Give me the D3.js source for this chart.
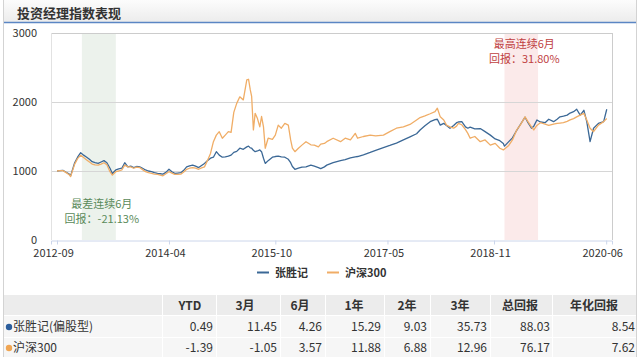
<!DOCTYPE html>
<html><head><meta charset="utf-8">
<script src="https://cdn.jsdelivr.net/npm/d3@7"></script>
<style>
html,body{margin:0;padding:0;background:#fff;}
svg{display:block;font-family:"Noto Sans CJK SC","Noto Sans",sans-serif;}
</style></head>
<body><svg id="c" width="640" height="357"></svg>
<script>
// ---------- DATA ----------
const titleText = "投资经理指数表现";
const seriesNames = ["张胜记", "沪深300"];
const dates = [
"2012-09-01","2012-09-16","2012-10-01","2012-10-16","2012-11-01","2012-11-10","2012-12-01","2012-12-16",
"2013-01-01","2013-01-16","2013-02-01","2013-02-15","2013-03-01","2013-03-16","2013-04-01","2013-04-16",
"2013-05-01","2013-05-16","2013-06-01","2013-06-13","2013-07-01","2013-07-16","2013-08-01","2013-08-16",
"2013-09-01","2013-09-16","2013-10-01","2013-10-16","2013-11-01","2013-11-16","2013-12-01","2013-12-16",
"2014-01-01","2014-01-16","2014-02-01","2014-02-15","2014-03-01","2014-03-16","2014-04-01","2014-04-16",
"2014-05-01","2014-05-16","2014-06-01","2014-06-16","2014-07-01","2014-07-16","2014-08-01","2014-08-16",
"2014-09-01","2014-09-16","2014-10-01","2014-10-16","2014-11-01","2014-11-16","2014-12-01","2014-12-16",
"2015-01-01","2015-01-16","2015-02-01","2015-02-15","2015-03-01","2015-03-16","2015-04-01","2015-04-19",
"2015-05-07","2015-05-16","2015-05-25","2015-06-01","2015-06-10","2015-06-19","2015-07-01","2015-07-13",
"2015-07-22","2015-08-01","2015-08-10","2015-08-25","2015-09-16","2015-10-01","2015-10-16","2015-11-01",
"2015-11-19","2015-12-07","2015-12-19","2015-12-28","2016-01-10","2016-01-28","2016-02-15","2016-03-07",
"2016-04-01","2016-04-19","2016-05-10","2016-05-22","2016-06-10","2016-06-22","2016-07-25","2016-09-01",
"2016-09-25","2016-10-22","2016-11-16","2016-11-28","2016-12-28","2017-02-01","2017-03-01","2017-04-10",
"2017-05-13","2017-06-16","2017-07-22","2017-08-25","2017-09-28","2017-10-16","2017-11-10","2017-12-07",
"2018-01-01","2018-01-13","2018-01-28","2018-02-15","2018-03-01","2018-03-19","2018-04-07","2018-04-22",
"2018-05-01","2018-05-19","2018-06-07","2018-06-19","2018-07-01","2018-07-25","2018-08-22","2018-09-16",
"2018-10-13","2018-11-07","2018-12-01","2018-12-19","2018-12-25","2019-01-16","2019-02-04","2019-02-26",
"2019-03-16","2019-04-10","2019-04-25","2019-05-13","2019-05-25","2019-06-10","2019-06-28","2019-07-22",
"2019-08-10","2019-09-04","2019-09-22","2019-10-07","2019-10-25","2019-11-13","2019-11-28","2019-12-16",
"2020-01-01","2020-01-19","2020-02-07","2020-02-22","2020-03-10","2020-03-28","2020-04-22","2020-05-19",
"2020-06-04"];
const zsjValues = [
1000,1005,1010,985,960,930,1120,1200,
1265,1230,1200,1170,1135,1120,1110,1130,
1150,1120,1040,965,1015,1030,1040,1120,
1060,1070,1050,1065,1060,1040,1015,1000,
990,975,965,960,955,980,1025,990,
965,970,975,1010,1060,1075,1085,1070,
1050,1080,1110,1150,1185,1200,1280,1230,
1200,1205,1215,1230,1270,1285,1330,1315,
1350,1360,1335,1330,1300,1280,1290,1305,
1280,1185,1110,1150,1200,1210,1215,1205,
1200,1170,1120,1065,1025,1040,1055,1060,
1085,1070,1050,1035,1060,1085,1120,1150,
1165,1190,1205,1210,1235,1270,1300,1340,
1370,1405,1450,1495,1540,1595,1655,1715,
1745,1750,1665,1690,1660,1620,1660,1700,
1710,1715,1640,1620,1635,1610,1615,1570,
1520,1465,1440,1400,1360,1425,1480,1590,
1670,1780,1700,1620,1650,1740,1710,1700,
1750,1715,1750,1785,1795,1810,1840,1860,
1895,1810,1880,1715,1425,1620,1690,1715,
1895];
const hs300Values = [
1000,1005,1005,980,950,920,1100,1180,
1230,1195,1160,1130,1100,1090,1085,1100,
1120,1090,990,940,990,1000,1015,1085,
1060,1060,1040,1055,1050,1020,990,975,
965,955,950,940,930,960,990,970,
950,950,955,985,1025,1040,1050,1040,
1025,1045,1060,1150,1255,1425,1520,1570,
1475,1520,1570,1560,1850,1980,2075,2030,
2320,2330,2175,2080,1595,1835,1760,1640,
1790,1640,1330,1475,1460,1520,1665,1620,
1690,1665,1450,1330,1280,1330,1375,1425,
1380,1375,1350,1390,1400,1425,1475,1425,
1475,1450,1545,1475,1500,1520,1510,1520,
1570,1620,1640,1675,1740,1775,1800,1830,
1860,1910,1785,1740,1665,1640,1620,1650,
1690,1670,1600,1545,1475,1500,1425,1450,
1375,1400,1330,1305,1320,1370,1450,1595,
1665,1785,1715,1640,1595,1660,1700,1680,
1660,1680,1690,1695,1700,1720,1740,1760,
1785,1810,1835,1740,1620,1570,1665,1715,
1760];
const yTicks = [0, 1000, 2000, 3000];
const xTickLabels = ["2012-09","2014-04","2015-10","2017-05","2018-11","2020-06"];
const worstBand = ["2013-01-07","2013-07-01"];
const bestBand = ["2018-12-25","2019-06-16"];
const worstText = ["最差连续6月","回报：-21.13%"];
const bestText = ["最高连续6月","回报：31.80%"];
const tableHeaders = ["YTD","3月","6月","1年","2年","3年","总回报","年化回报"];
const rowNames = ["张胜记(偏股型)","沪深300"];
const zsjReturns = [0.49, 11.45, 4.26, 15.29, 9.03, 35.73, 88.03, 8.54];
const hs300Returns = [-1.39, -1.05, 3.57, 11.88, 6.88, 12.96, 76.17, 7.62];

// ---------- STYLE / LAYOUT ----------
const blue = "#3b6896", orange = "#f0ad66";
const svg = d3.select("#c");
const parse = d3.timeParse("%Y-%m-%d");
const parseM = d3.timeParse("%Y-%m");
const L = 51, R = 612, T = 33, B = 240;
const x = d3.scaleTime().domain([new Date(2012,7,1), new Date(2020,6,1)]).range([L, R]);
const y = d3.scaleLinear().domain([0, 3000]).range([B, T]);

// frame and title bar
const defs = svg.append("defs");
const g1 = defs.append("linearGradient").attr("id","tb").attr("x1",0).attr("y1",0).attr("x2",0).attr("y2",1);
g1.append("stop").attr("offset","0%").attr("stop-color","#fcfcfc");
g1.append("stop").attr("offset","100%").attr("stop-color","#ececec");
svg.append("rect").attr("x",4).attr("y",0).attr("width",632).attr("height",22).attr("fill","url(#tb)");
svg.append("line").attr("x1",3).attr("x2",637).attr("y1",22.5).attr("y2",22.5).attr("stroke","#5b86c4").attr("stroke-width",1.5);
svg.append("line").attr("x1",3.5).attr("x2",3.5).attr("y1",0).attr("y2",357).attr("stroke","#d3d3d3");
svg.append("line").attr("x1",636.5).attr("x2",636.5).attr("y1",0).attr("y2",357).attr("stroke","#d3d3d3");
svg.append("text").attr("x",17).attr("y",18).attr("font-size",13).attr("font-weight","bold").attr("fill","#333").text(titleText);

// bands
function band(d, fill){
  svg.append("rect").attr("x", x(parse(d[0]))).attr("y", T)
    .attr("width", x(parse(d[1])) - x(parse(d[0]))).attr("height", B - T).attr("fill", fill);
}
band(worstBand, "#ecf2ec");
band(bestBand, "#fbeaea");

// grid
svg.append("g").selectAll("line").data(yTicks.filter(v=>v>0)).join("line")
  .attr("x1", L).attr("x2", R).attr("y1", d=>Math.round(y(d))+0.5).attr("y2", d=>Math.round(y(d))+0.5)
  .attr("stroke", d=> d===3000 ? "#cccccc" : "#d6d6d6");
svg.append("line").attr("x1",L+0.5).attr("x2",L+0.5).attr("y1",T).attr("y2",B).attr("stroke","#e2e2e2");
svg.append("line").attr("x1",R+0.5).attr("x2",R+0.5).attr("y1",T).attr("y2",B).attr("stroke","#cccccc");

// y labels
svg.append("g").selectAll("text").data(yTicks).join("text")
  .attr("x", 37).attr("y", d=>y(d)).attr("dy","0.35em").attr("text-anchor","end")
  .attr("font-size", 11).attr("fill","#333").text(d=>d);

// x axis
const xAxis = d3.axisBottom(x).tickValues(xTickLabels.map(parseM)).tickSize(4).tickFormat(d3.timeFormat("%Y-%m"));
const gx = svg.append("g").attr("transform", `translate(0,${B+0.5})`).call(xAxis);
gx.select(".domain").attr("stroke","#ccd6eb");
gx.selectAll(".tick line").attr("stroke","#ccd6eb");
gx.selectAll(".tick text").attr("font-size",11).attr("fill","#333").attr("font-family",'"Noto Sans CJK SC",sans-serif')
  .attr("dx",-4).attr("y",9);

// lines
const pts1 = dates.map((d,i)=>[parse(d), zsjValues[i]]);
const pts2 = dates.map((d,i)=>[parse(d), hs300Values[i]]);
const line = d3.line().x(d=>x(d[0])).y(d=>y(d[1]));
svg.append("path").attr("d", line(pts1)).attr("fill","none").attr("stroke",blue).attr("stroke-width",1.3).attr("stroke-linejoin","round");
svg.append("path").attr("d", line(pts2)).attr("fill","none").attr("stroke",orange).attr("stroke-width",1.3).attr("stroke-linejoin","round");

// annotations
function ann(d, lines, yy, color){
  const cx = (x(parse(d[0])) + x(parse(d[1]))) / 2 + 3;
  svg.append("g").selectAll("text").data(lines).join("text")
    .attr("x", cx).attr("y",(t,i)=>yy + i*15).attr("text-anchor","middle")
    .attr("font-size",11).attr("fill",color).text(t=>t);
}
ann(worstBand, worstText, 208, "#5a8a5a");
ann(bestBand, bestText, 48, "#c0413f");

// legend
const leg = [{n:seriesNames[0], c:blue, x:257}, {n:seriesNames[1], c:orange, x:327}];
leg.forEach(l=>{
  svg.append("line").attr("x1",l.x).attr("x2",l.x+12).attr("y1",272.5).attr("y2",272.5).attr("stroke",l.c).attr("stroke-width",2);
  svg.append("text").attr("x",l.x+18).attr("y",276.5).attr("font-size",11).attr("font-weight","bold").attr("fill","#333").text(l.n);
});

// table
const colEdges = [4,163,217,281,326,385,431,491,553,637];
const headCenters = [190,245,300,354,407,460,520,594];
const valRights = [213,277,322,381,427,487,550,635];
const rowsY = [[295,315],[316,337],[338,357]];
const rowsData = [zsjReturns, hs300Returns];
const dotColors = ["#2b5d9c", "#f0a552"];
rowsY.forEach((r,ri)=>{
  for(let c=0;c<colEdges.length-1;c++){
    svg.append("rect").attr("x",colEdges[c]).attr("y",r[0]).attr("width",colEdges[c+1]-colEdges[c]-1)
      .attr("height",r[1]-r[0]).attr("fill", ri===0 ? "#ececec" : "#f6f6f6");
  }
});
svg.append("g").selectAll("text").data(tableHeaders).join("text")
  .attr("x",(d,i)=>headCenters[i]).attr("y",306).attr("dy","0.35em").attr("text-anchor","middle")
  .attr("font-size",12).attr("font-weight","bold").attr("fill","#333").text(d=>d);
rowsData.forEach((vals,ri)=>{
  const yy = [327,348][ri];
  svg.append("circle").attr("cx",9).attr("cy",yy).attr("r",3.2).attr("fill",dotColors[ri]);
  svg.append("text").attr("x",13).attr("y",yy).attr("dy","0.35em").attr("font-size",12).attr("fill","#333").text(rowNames[ri]);
  svg.append("g").selectAll("text").data(vals).join("text")
    .attr("x",(d,i)=>valRights[i]).attr("y",yy).attr("dy","0.35em").attr("text-anchor","end")
    .attr("font-size",12).attr("fill","#333").text(d=>d.toFixed(2));
});
</script></body></html>
